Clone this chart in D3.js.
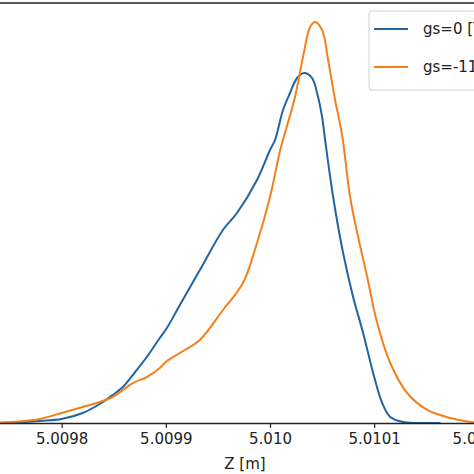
<!DOCTYPE html>
<html>
<head>
<meta charset="utf-8">
<script src="https://cdn.jsdelivr.net/npm/d3@7"></script>
<style>
  html, body { margin: 0; padding: 0; background: #fff; }
  svg { display: block; font-family: "DejaVu Sans", sans-serif; }
</style>
</head>
<body>
<svg id="chart" width="474" height="474"></svg>
<script>
// Z positions [m] and normalised KDE heights
const zBlue = [5.0097404, 5.0097596, 5.0097788, 5.0098000, 5.0098202, 5.0098365, 5.0098490,
  5.0098587, 5.0098721, 5.0098817, 5.0098942, 5.0099010, 5.0099135, 5.0099327, 5.0099548,
  5.0099683, 5.0099875, 5.0100000, 5.0100048, 5.0100125, 5.0100192, 5.0100260, 5.0100327,
  5.0100404, 5.0100452, 5.0100500, 5.0100529, 5.0100606, 5.0100702, 5.0100798, 5.0100894,
  5.0100990, 5.0101077, 5.0101154, 5.0101279, 5.0101510, 5.0101635];
const hBlue = [0, 0.0017, 0.0048, 0.0095, 0.0238, 0.0452, 0.0667,
  0.0857, 0.1262, 0.1571, 0.2024, 0.2262, 0.2810, 0.3643, 0.4595,
  0.5000, 0.5786, 0.6500, 0.6738, 0.7452, 0.7857, 0.8214, 0.8333,
  0.8214, 0.7857, 0.7286, 0.6738, 0.5381, 0.4048, 0.3000, 0.2143,
  0.1190, 0.0476, 0.0143, 0.0024, 0, 0];

const zOrange = [5.0097404, 5.0097596, 5.0097788, 5.0098000, 5.0098202, 5.0098365, 5.0098490,
  5.0098587, 5.0098683, 5.0098817, 5.0098942, 5.0099010, 5.0099183, 5.0099327, 5.0099548,
  5.0099740, 5.0099875, 5.0100000, 5.0100096, 5.0100163, 5.0100240, 5.0100317, 5.0100385,
  5.0100433, 5.0100500, 5.0100558, 5.0100625, 5.0100692, 5.0100769, 5.0100846, 5.0100933,
  5.0101029, 5.0101154, 5.0101317, 5.0101510, 5.0101731, 5.0101923, 5.0102115];
const hOrange = [0.0012, 0.0036, 0.0095, 0.0238, 0.0381, 0.0500, 0.0619,
  0.0786, 0.0952, 0.1095, 0.1310, 0.1476, 0.1738, 0.1976, 0.2690,
  0.3333, 0.4286, 0.5381, 0.6476, 0.7071, 0.7762, 0.8714, 0.9429,
  0.9548, 0.9357, 0.8643, 0.7690, 0.6857, 0.5381, 0.4429, 0.3476,
  0.2381, 0.1429, 0.0714, 0.0310, 0.0119, 0.0024, 0];

const xTicks = [5.0098, 5.0099, 5.0100, 5.0101, 5.0102];
const xLimits = [5.009712, 5.01024];
const seriesNames = ['gs=0 [T/m]', 'gs=-11 [T/m]'];
const seriesColors = ['#1f65a3', '#f5801a'];

const svg = d3.select('#chart');
const plot = { left: -30, right: 520, top: 3, bottom: 423 };

const x = d3.scaleLinear().domain(xLimits).range([plot.left, plot.right]);
const y = d3.scaleLinear().domain([0, 1]).range([plot.bottom, plot.top]);

svg.append('defs').append('clipPath').attr('id', 'clip')
  .append('rect')
  .attr('x', plot.left).attr('y', plot.top)
  .attr('width', plot.right - plot.left).attr('height', plot.bottom - plot.top);

const series = [
  zBlue.map((z, i) => ({ z, h: hBlue[i] })),
  zOrange.map((z, i) => ({ z, h: hOrange[i] }))
];

const line = d3.line()
  .x(d => x(d.z))
  .y(d => y(d.h))
  .curve(d3.curveCatmullRom.alpha(0.5));

svg.append('g').attr('clip-path', 'url(#clip)')
  .selectAll('path')
  .data(series)
  .enter().append('path')
  .attr('fill', 'none')
  .attr('stroke', (d, i) => seriesColors[i])
  .attr('stroke-width', 2)
  .attr('stroke-linejoin', 'round')
  .attr('d', line);

// top spine
svg.append('line')
  .attr('x1', plot.left).attr('x2', plot.right)
  .attr('y1', plot.top).attr('y2', plot.top)
  .attr('stroke', '#222').attr('stroke-width', 1.6);

// x axis
const xAxis = svg.append('g')
  .attr('transform', `translate(0,${plot.bottom})`)
  .call(d3.axisBottom(x).tickValues(xTicks).tickSize(5).tickPadding(5)
    .tickFormat(d => d3.format('.4f')(d).replace(/0$/, '')));
xAxis.select('.domain').attr('stroke', '#222').attr('stroke-width', 1.6);
xAxis.selectAll('.tick line').attr('stroke', '#222').attr('stroke-width', 1.2);
xAxis.selectAll('.tick text')
  .attr('fill', '#222')
  .style('font-size', '15px')
  .style('font-family', '"DejaVu Sans", sans-serif');

svg.append('text')
  .attr('x', 245)
  .attr('y', 469)
  .attr('text-anchor', 'middle')
  .attr('fill', '#222')
  .style('font-size', '15px')
  .text('Z [m]');

// legend
const legend = svg.append('g');
legend.append('rect')
  .attr('x', 369).attr('y', 11)
  .attr('width', 140).attr('height', 79)
  .attr('rx', 3)
  .attr('fill', '#fff').attr('fill-opacity', 0.85)
  .attr('stroke', '#d0d0d0');

const entries = legend.selectAll('.entry')
  .data(seriesNames)
  .enter().append('g')
  .attr('class', 'entry')
  .attr('transform', (d, i) => `translate(374,${29 + i * 38})`);

entries.append('line')
  .attr('x1', 0).attr('x2', 34)
  .attr('stroke', (d, i) => seriesColors[i])
  .attr('stroke-width', 2);

entries.append('text')
  .attr('x', 49)
  .attr('dy', '0.35em')
  .attr('fill', '#222')
  .style('font-size', '15px')
  .text(d => d);
</script>
</body>
</html>
